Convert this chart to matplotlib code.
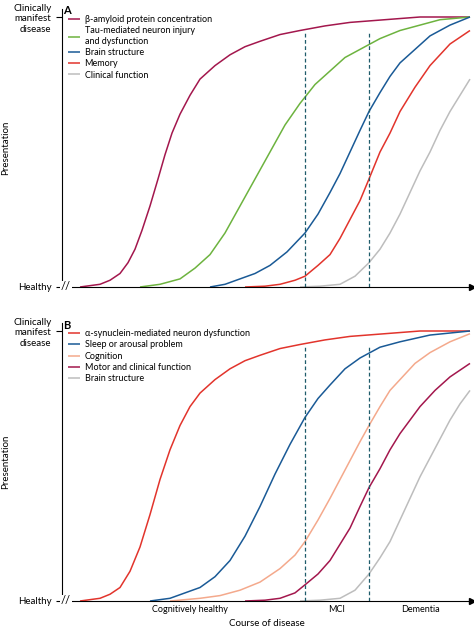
import matplotlib
matplotlib.use("Agg")
import matplotlib.pyplot as plt

plt.rcParams['font.family'] = ['Lato', 'DejaVu Sans']
plt.rcParams['font.size'] = 7

# Panel A data (x in course units, y 0=healthy, 1=manifest)
amy_x = [80,100,110,120,128,135,142,150,158,165,172,180,190,200,215,230,245,260,280,300,325,350,385,420,470]
amy_y = [0,0.01,0.025,0.05,0.09,0.14,0.21,0.3,0.4,0.49,0.57,0.64,0.71,0.77,0.82,0.86,0.89,0.91,0.935,0.95,0.967,0.98,0.99,1.0,1.0]
tau_x = [140,160,180,195,210,225,240,255,270,285,300,315,330,345,360,380,400,420,440,470]
tau_y = [0,0.01,0.03,0.07,0.12,0.2,0.3,0.4,0.5,0.6,0.68,0.75,0.8,0.85,0.88,0.92,0.95,0.97,0.99,1.0]
bra_x = [210,225,240,255,270,287,305,318,330,340,350,360,369,380,390,400,415,430,450,470]
bra_y = [0,0.01,0.03,0.05,0.08,0.13,0.2,0.27,0.35,0.42,0.5,0.58,0.65,0.72,0.78,0.83,0.88,0.93,0.97,1.0]
mem_x = [245,265,280,295,305,318,330,340,350,360,369,380,390,400,415,430,450,470]
mem_y = [0,0.003,0.01,0.025,0.04,0.08,0.12,0.18,0.25,0.32,0.4,0.5,0.57,0.65,0.74,0.82,0.9,0.95]
cli_x = [300,320,340,355,369,380,390,400,410,420,430,440,450,460,470]
cli_y = [0,0.003,0.01,0.04,0.09,0.14,0.2,0.27,0.35,0.43,0.5,0.58,0.65,0.71,0.77]

# Panel B data
syn_x = [80,100,110,120,130,140,150,160,170,180,190,200,215,230,245,260,280,300,325,350,385,420,470]
syn_y = [0,0.01,0.025,0.05,0.11,0.2,0.32,0.45,0.56,0.65,0.72,0.77,0.82,0.86,0.89,0.91,0.935,0.95,0.967,0.98,0.99,1.0,1.0]
slp_x = [150,170,185,200,215,230,245,260,275,290,305,318,330,345,360,380,400,430,470]
slp_y = [0,0.01,0.03,0.05,0.09,0.15,0.24,0.35,0.47,0.58,0.68,0.75,0.8,0.86,0.9,0.94,0.96,0.985,1.0]
cog_x = [170,200,220,240,260,280,295,305,318,330,340,350,360,369,380,390,400,415,430,450,470]
cog_y = [0,0.01,0.02,0.04,0.07,0.12,0.17,0.22,0.3,0.38,0.45,0.52,0.59,0.65,0.72,0.78,0.82,0.88,0.92,0.96,0.99]
mot_x = [245,265,280,295,305,318,330,340,350,360,369,380,390,400,410,420,435,450,470]
mot_y = [0,0.003,0.01,0.03,0.06,0.1,0.15,0.21,0.27,0.35,0.42,0.49,0.56,0.62,0.67,0.72,0.78,0.83,0.88]
brb_x = [300,320,340,355,369,380,390,400,410,420,430,440,450,460,470]
brb_y = [0,0.003,0.01,0.04,0.1,0.16,0.22,0.3,0.38,0.46,0.53,0.6,0.67,0.73,0.78]

panelA = [("β-amyloid protein concentration", "#a3174d", amy_x, amy_y),
          ("Tau-mediated neuron injury\nand dysfunction", "#6db33f", tau_x, tau_y),
          ("Brain structure", "#1a5a96", bra_x, bra_y),
          ("Memory", "#e2342c", mem_x, mem_y),
          ("Clinical function", "#bdbdbd", cli_x, cli_y)]
panelB = [("α-synuclein-mediated neuron dysfunction", "#e2342c", syn_x, syn_y),
          ("Sleep or arousal problem", "#1a5a96", slp_x, slp_y),
          ("Cognition", "#f4a98c", cog_x, cog_y),
          ("Motor and clinical function", "#a3174d", mot_x, mot_y),
          ("Brain structure", "#bdbdbd", brb_x, brb_y)]
stage_labels = ["Cognitively healthy", "MCI", "Dementia"]
stage_pos = [190, 337, 420]
dashes = [305, 369]

W, H = 474, 633
fig = plt.figure(figsize=(W/100, H/100), dpi=100)
left = 62/W; width = (472-62)/W
ytop = 1.03
hpx = 270 * ytop
axA = fig.add_axes([left, 1-287/H, width, hpx/H])
axB = fig.add_axes([left, 1-601/H, width, hpx/H])

for ax, series, lab, laby in [(axA, panelA, "A", 5), (axB, panelB, "B", 320)]:
    ax.set_xlim(62, 472)
    ax.set_ylim(0, ytop)
    for name, c, xs, ys in series:
        ax.plot(xs, ys, color=c, lw=1.1, label=name, solid_capstyle='butt')
    for d in dashes:
        ax.plot([d, d], [0, 0.95], ls=(0, (3, 2)), color="#1f5c6b", lw=0.9)
    for s in ["top", "right"]:
        ax.spines[s].set_visible(False)
    ax.spines["left"].set_linewidth(0.8)
    ax.spines["bottom"].set_linewidth(0.8)
    ax.set_xticks([])
    ax.set_yticks([0, 1])
    ax.set_yticklabels(["Healthy", "Clinically\nmanifest\ndisease"], fontsize=7)
    ax.tick_params(axis='y', length=4, width=0.8)
    ax.set_ylabel("Presentation", fontsize=7, labelpad=2)
    ax.plot(472, 0, marker=">", color="black", markersize=4, clip_on=False)
    ax.text(66, 0, "//", fontsize=8, ha="center", va="center",
            bbox=dict(fc="white", ec="none", pad=0.5), clip_on=False)
    fig.text(67/W, 1-laby/H, lab, fontsize=8, fontweight="bold",
             ha="center", va="top")
    ax.legend(loc="upper left", bbox_to_anchor=(0.0, 1.0), frameon=False,
              fontsize=6.5, handlelength=1.3, handletextpad=0.5,
              labelspacing=0.25, borderaxespad=0.3)

for t, p in zip(stage_labels, stage_pos):
    axB.text(p, -0.015, t, ha="center", va="top", fontsize=6.5)
axB.set_xlabel("Course of disease", fontsize=7, labelpad=13)

fig.savefig("out.png", dpi=100)
